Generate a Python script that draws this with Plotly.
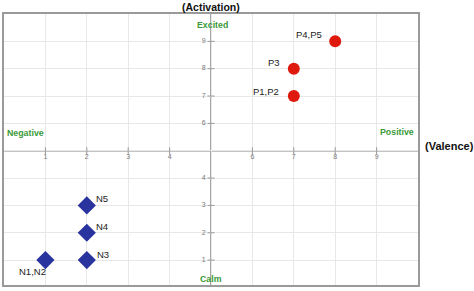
import plotly.graph_objects as go

# Data
pos_x = [7, 7, 8]
pos_y = [7, 8, 9]
pos_labels = ["P1,P2", "P3", "P4,P5"]
neg_x = [1, 2, 2, 2]
neg_y = [1, 1, 2, 3]
neg_labels = ["N1,N2", "N3", "N4", "N5"]
tick_vals = [1, 2, 3, 4, 6, 7, 8, 9]
tick_text = ["1", "2", "3", "4", "6", "7", "8", "9"]

fig = go.Figure()

# Central axes
fig.add_shape(type="line", x0=5, x1=5, y0=0.09, y1=10, line=dict(color="#8a8a8a", width=1.5), layer="below")
fig.add_shape(type="line", x0=0, x1=10, y0=5, y1=5, line=dict(color="#8a8a8a", width=1.5), layer="below")

# tick marks on central axes
fig.add_trace(go.Scatter(x=tick_vals, y=[5]*len(tick_vals), mode="markers",
                         marker=dict(symbol="line-ns-open", size=5, color="#999", line=dict(width=1)),
                         hoverinfo="skip", showlegend=False))
fig.add_trace(go.Scatter(x=[5]*len(tick_vals), y=tick_vals, mode="markers",
                         marker=dict(symbol="line-ew-open", size=5, color="#999", line=dict(width=1)),
                         hoverinfo="skip", showlegend=False))
# tick labels
fig.add_trace(go.Scatter(x=tick_vals, y=[4.78]*len(tick_vals), mode="text", text=tick_text,
                         textfont=dict(size=7, color="#777", family="Arial"),
                         hoverinfo="skip", showlegend=False))
fig.add_trace(go.Scatter(x=[4.87]*len(tick_vals), y=tick_vals, mode="text", text=tick_text,
                         textposition="middle left",
                         textfont=dict(size=7, color="#777", family="Arial"),
                         hoverinfo="skip", showlegend=False))

# data points
fig.add_trace(go.Scatter(x=pos_x, y=pos_y, mode="markers",
                         marker=dict(symbol="circle", size=12, color="#e0190f"),
                         showlegend=False))
fig.add_trace(go.Scatter(x=neg_x, y=neg_y, mode="markers",
                         marker=dict(symbol="diamond", size=14, color="#2a349e"),
                         showlegend=False))

label_pos = {
    "P4,P5": (7.37, 9.26), "P3": (6.52, 8.22), "P1,P2": (6.33, 7.18),
    "N5": (2.36, 3.25), "N4": (2.36, 2.22), "N3": (2.38, 1.2), "N1,N2": (0.68, 0.57),
}
for t, (x, y) in label_pos.items():
    fig.add_annotation(x=x, y=y, text=t, showarrow=False,
                       font=dict(size=9.5, color="#222", family="Arial"))

green = "#3a9a3a"
for t, (x, y) in {"Excited": (5.03, 9.58), "Calm": (5.0, 0.31),
                  "Negative": (0.53, 5.66), "Positive": (9.49, 5.69)}.items():
    fig.add_annotation(x=x, y=y, text="<b>" + t + "</b>", showarrow=False,
                       font=dict(size=8.8, color=green, family="Arial"))

fig.add_annotation(xref="paper", yref="paper", x=0.5, y=1, yanchor="bottom", yshift=-1,
                   text="<b>(Activation)</b>", showarrow=False,
                   font=dict(size=10.5, color="#111", family="Arial"))
fig.add_annotation(xref="paper", yref="y", x=1, xanchor="left", xshift=5, y=5.18,
                   text="<b>(Valence)</b>", showarrow=False,
                   font=dict(size=11, color="#111", family="Arial"))

fig.update_xaxes(range=[0, 10], dtick=1, showgrid=True, gridcolor="#e8e8e8", gridwidth=1,
                 zeroline=False, showticklabels=False, ticks="",
                 showline=True, linecolor="#9a9a9a", linewidth=1.5, mirror=True)
fig.update_yaxes(range=[0.09, 10], dtick=1, showgrid=True, gridcolor="#e8e8e8", gridwidth=1,
                 zeroline=False, showticklabels=False, ticks="",
                 showline=True, linecolor="#9a9a9a", linewidth=1.5, mirror=True)

fig.update_layout(width=474, height=291, margin=dict(l=4, r=56, t=14, b=6),
                  plot_bgcolor="white", paper_bgcolor="white")

fig.write_html("out.html")
